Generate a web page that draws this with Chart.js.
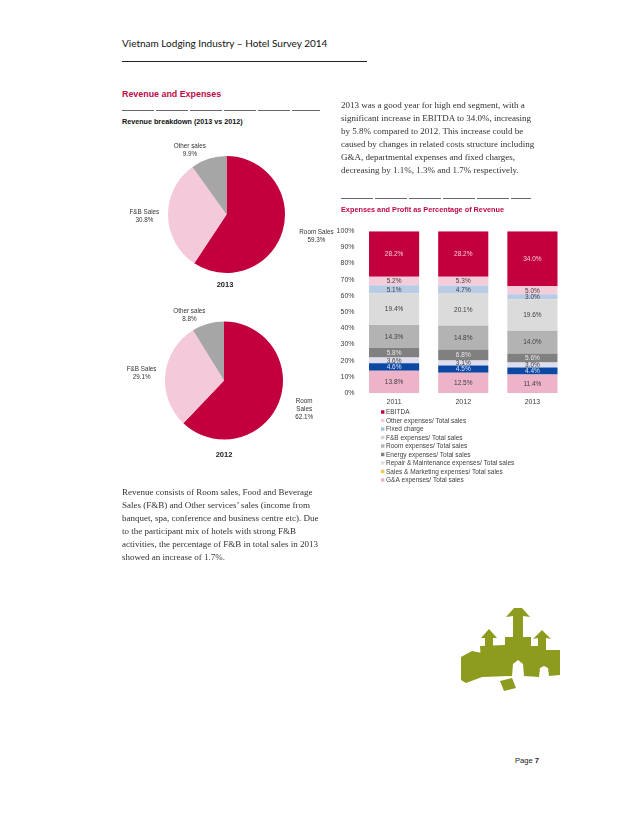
<!DOCTYPE html>
<html>
<head>
<meta charset="utf-8">
<script src="https://cdn.jsdelivr.net/npm/chart.js@4.4.1/dist/chart.umd.min.js"></script>
<style>
html,body{margin:0;padding:0;background:#fff;}
body{width:638px;height:826px;position:relative;overflow:hidden;font-family:"Liberation Sans",Arial,sans-serif;color:#000;}
.abs{position:absolute;white-space:nowrap;}
#hdr{left:122px;top:37px;font-family:Lato,"Open Sans",sans-serif;font-size:10px;color:#111;}
#hdrline{left:122px;top:61px;width:245px;height:1px;background:#222;}
.dash{height:1px;background:repeating-linear-gradient(to right,#666 0 32px,transparent 32px 34px);}
.red{color:#BC0A48;font-weight:bold;}
.sub{font-weight:bold;font-size:7.2px;color:#111;}
.para{font-family:"Liberation Serif","Times New Roman",serif;font-size:9px;line-height:13px;color:#333;}
.ptitle{font-weight:bold;font-size:7.5px;color:#222;text-align:center;width:40px;}
canvas{position:absolute;}
</style>
</head>
<body>
<div class="abs" id="hdr">Vietnam Lodging Industry – Hotel Survey 2014</div>
<div class="abs" id="hdrline"></div>

<div class="abs red" style="left:122px;top:89px;font-size:8.9px;">Revenue and Expenses</div>
<div class="abs dash" style="left:122px;top:110px;width:198px;"></div>
<div class="abs sub" style="left:122px;top:117px;">Revenue breakdown (2013 vs 2012)</div>

<canvas id="pie2013" width="240" height="170" style="left:110px;top:130px;width:240px;height:170px;"></canvas>
<div class="abs ptitle" style="left:205px;top:280px;">2013</div>
<canvas id="pie2012" width="240" height="170" style="left:110px;top:300px;width:240px;height:170px;"></canvas>
<div class="abs ptitle" style="left:204px;top:450px;">2012</div>

<div class="abs para" style="left:122px;top:486px;">Revenue consists of Room sales, Food and Beverage<br>Sales (F&amp;B) and Other services’ sales (income from<br>banquet, spa, conference and business centre etc). Due<br>to the participant mix of hotels with strong F&amp;B<br>activities, the percentage of F&amp;B in total sales in 2013<br>showed an increase of 1.7%.</div>

<div class="abs para" style="left:341px;top:99px;">2013 was a good year for high end segment, with a<br>significant increase in EBITDA to 34.0%, increasing<br>by 5.8% compared to 2012. This increase could be<br>caused by changes in related costs structure including<br>G&amp;A, departmental expenses and fixed charges,<br>decreasing by 1.1%, 1.3% and 1.7% respectively.</div>

<div class="abs dash" style="left:341px;top:198px;width:190px;"></div>
<div class="abs red" style="left:341px;top:205px;font-size:7.3px;">Expenses and Profit as Percentage of Revenue</div>

<canvas id="bars" width="240" height="270" style="left:330px;top:222px;width:240px;height:270px;"></canvas>

<svg class="abs" style="left:455px;top:600px;" width="110" height="95" viewBox="455 600 110 95">
  <g fill="#8D9B1F">
    <polygon points="461,657 472,651 482,653 482,677 466,683 461,680"/>
    <polygon points="481,638 489,629 497,638 493,638 493,648 485,648 485,638"/>
    <polygon points="480,646 505,645 505,637 513,637 513,616 506,617 514,608 522,608 530,617 523,616 523,637 531,637 531,646 538,646 538,638 533,639 542,630 551,639 546,638 546,650 560,650 560,675 549,676 548,668 544,666 540,668 539,677 524,676 523,664 518,660 513,664 512,676 482,677"/>
    <polygon points="500,681 512,678 516,688 504,691"/>
  </g>
</svg>

<div class="abs" style="left:515px;top:756px;font-size:7.6px;color:#222;">Page <b>7</b></div>

<script>
// ---- data ----
const pieCategories2013 = [["Room Sales"], ["F&B Sales"], ["Other sales"]];
const pieValues2013 = [59.3, 30.8, 9.9];
const pieCategories2012 = [["Room", "Sales"], ["F&B Sales"], ["Other sales"]];
const pieValues2012 = [62.1, 29.1, 8.8];

const years = ["2011", "2012", "2013"];
const gaExpenses = [13.8, 12.5, 11.4];
const salesMarketing = [4.6, 4.5, 4.4];
const repairMaintenance = [3.6, 3.1, 3.0];
const energyExpenses = [5.8, 6.8, 5.6];
const roomExpenses = [14.3, 14.8, 14.0];
const fbExpenses = [19.4, 20.1, 19.6];
const fixedCharge = [5.1, 4.7, 3.0];
const otherExpenses = [5.2, 5.3, 5.0];
const ebitda = [28.2, 28.2, 34.0];
const yTicks = [0, 10, 20, 30, 40, 50, 60, 70, 80, 90, 100];

const FONT = '"Liberation Sans", Arial, sans-serif';
const pieColors = ["#C2003D", "#F4CADA", "#A6A6A6"];

const pieLabelPlugin = {
  id: 'pieLabels',
  afterDatasetsDraw(chart, args, opts) {
    const ctx = chart.ctx;
    const meta = chart.getDatasetMeta(0);
    const data = chart.data.datasets[0].data;
    ctx.save();
    ctx.font = opts.font;
    ctx.fillStyle = opts.color;
    ctx.textBaseline = 'middle';
    ctx.textAlign = 'center';
    meta.data.forEach((arc, i) => {
      const mid = (arc.startAngle + arc.endAngle) / 2;
      const c = Math.cos(mid);
      const r = arc.outerRadius * (c > 0.15 ? opts.factorRight : opts.factorLeft);
      const ax = arc.x + c * r, ay = arc.y + Math.sin(mid) * r;
      const lbl = chart.data.labels[i];
      const lines = (Array.isArray(lbl) ? lbl : [lbl]).concat([data[i].toFixed(1) + '%']);
      const w = Math.max(...lines.map(l => ctx.measureText(l).width));
      const cx = c > 0.15 ? ax + w / 2 : (c < -0.15 ? ax - w / 2 : ax);
      const top = ay - (lines.length - 1) * opts.lineHeight / 2;
      lines.forEach((l, j) => ctx.fillText(l, cx, top + j * opts.lineHeight));
    });
    ctx.restore();
  }
};

function makePie(id, labels, values, padding) {
  new Chart(document.getElementById(id), {
    type: 'pie',
    data: { labels: labels, datasets: [{ data: values, backgroundColor: pieColors, borderWidth: 0 }] },
    options: {
      responsive: false, animation: false,
      layout: { padding: padding },
      plugins: {
        legend: { display: false }, tooltip: { enabled: false },
        pieLabels: { font: '6.3px ' + FONT, color: '#333', factorRight: 1.3, factorLeft: 1.15, lineHeight: 8 }
      }
    },
    plugins: [pieLabelPlugin]
  });
}
makePie('pie2013', pieCategories2013, pieValues2013, { left: 58, right: 65, top: 26, bottom: 27 });
makePie('pie2012', pieCategories2012, pieValues2012, { left: 55, right: 67, top: 21.5, bottom: 30.5 });

const seriesDefs = [
  { label: "G&A expenses/ Total sales", data: gaExpenses, color: "#EDB3C8", legend: "#EDB3C8", text: "#404040" },
  { label: "Sales & Marketing expenses/ Total sales", data: salesMarketing, color: "#0B48A3", legend: "#F0C455", text: "#DCE4F5" },
  { label: "Repair & Maintenance expenses/ Total sales", data: repairMaintenance, color: "#DEDEEE", legend: "#DEDEEE", text: "#404040" },
  { label: "Energy expenses/ Total sales", data: energyExpenses, color: "#808080", legend: "#808080", text: "#E6E6E6" },
  { label: "Room expenses/ Total sales", data: roomExpenses, color: "#B3B3B3", legend: "#B3B3B3", text: "#404040" },
  { label: "F&B expenses/ Total sales", data: fbExpenses, color: "#DBDBDB", legend: "#D5D5D5", text: "#404040" },
  { label: "Fixed charge", data: fixedCharge, color: "#B8CCE6", legend: "#A9C0DE", text: "#404040" },
  { label: "Other expenses/ Total sales", data: otherExpenses, color: "#F5CCDA", legend: "#F5CCDA", text: "#404040" },
  { label: "EBITDA", data: ebitda, color: "#C2003D", legend: "#C2003D", text: "#F5C6D6" }
];

const barLabelPlugin = {
  id: 'barLabels',
  afterDatasetsDraw(chart) {
    const ctx = chart.ctx;
    ctx.save();
    ctx.font = '6.5px ' + FONT;
    ctx.textAlign = 'center';
    ctx.textBaseline = 'middle';
    chart.data.datasets.forEach((ds, di) => {
      const meta = chart.getDatasetMeta(di);
      meta.data.forEach((bar, i) => {
        ctx.fillStyle = ds.labelColor;
        ctx.fillText(ds.data[i].toFixed(1) + '%', bar.x, (bar.y + bar.base) / 2 + 0.5);
      });
    });
    ctx.restore();
  }
};

const vLegendPlugin = {
  id: 'vLegend',
  afterDraw(chart, args, opts) {
    const ctx = chart.ctx;
    const ds = chart.data.datasets.slice().reverse();
    ctx.save();
    ctx.font = opts.font;
    ctx.textBaseline = 'middle';
    ctx.textAlign = 'left';
    ds.forEach((d, i) => {
      const y = opts.y + i * opts.spacing;
      ctx.fillStyle = d.legendColor;
      ctx.fillRect(opts.x, y - 1.7, 3.4, 3.4);
      ctx.fillStyle = '#404040';
      ctx.fillText(d.label, opts.x + 5, y + 0.3);
    });
    ctx.restore();
  }
};

new Chart(document.getElementById('bars'), {
  type: 'bar',
  data: {
    labels: years,
    datasets: seriesDefs.map(s => ({
      label: s.label, data: s.data, backgroundColor: s.color, legendColor: s.legend, labelColor: s.text,
      borderWidth: 0, categoryPercentage: 1, barPercentage: 0.725
    }))
  },
  options: {
    responsive: false, animation: false,
    layout: { padding: { left: 0, right: 3, top: 9, bottom: 83 } },
    plugins: {
      legend: { display: false }, tooltip: { enabled: false },
      vLegend: { x: 51, y: 190, spacing: 8.5, font: '6.5px ' + FONT }
    },
    scales: {
      x: {
        stacked: true, grid: { display: false, drawTicks: false }, border: { display: false },
        ticks: { font: { size: 7, family: FONT }, color: '#404040', padding: 5 },
        afterFit(s) { s.height = 16; }
      },
      y: {
        stacked: true, min: 0, max: 100,
        grid: { display: false, drawTicks: false }, border: { display: false },
        afterBuildTicks(s) { s.ticks = yTicks.map(v => ({ value: v })); },
        ticks: { font: { size: 7, family: FONT }, color: '#404040', padding: 5, callback: v => v + '%' },
        afterFit(s) { s.width = 29.5; }
      }
    }
  },
  plugins: [barLabelPlugin, vLegendPlugin]
});
</script>
</body>
</html>
